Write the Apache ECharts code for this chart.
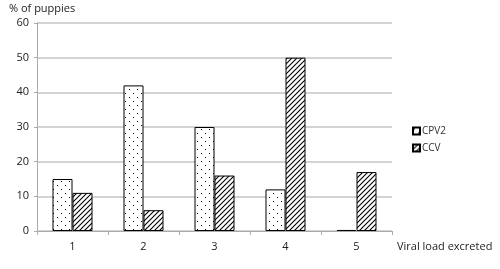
<!DOCTYPE html>
<html><head><meta charset="utf-8">
<script src="https://cdn.jsdelivr.net/npm/echarts@6/dist/echarts.min.js"></script>
<style>html,body{margin:0;padding:0;background:#fff}#c{width:500px;height:269px}</style>
</head><body><div id="c"></div>
<script>
var categories = ['1', '2', '3', '4', '5'];
var cpv2 = [15, 42, 30, 12, 0.3];
var ccv = [11, 6, 16, 50, 17];
var seriesNames = ['CPV2', 'CCV'];

function dotPattern() {
  var c = document.createElement('canvas'); c.width = 8; c.height = 8;
  var g = c.getContext('2d');
  g.fillStyle = '#fff'; g.fillRect(0, 0, 8, 8);
  g.fillStyle = '#000';
  g.fillRect(1, 1, 1, 1); g.fillRect(5, 5, 1, 1);
  return c;
}
function hatchPattern() {
  var c = document.createElement('canvas'); c.width = 5; c.height = 5;
  var g = c.getContext('2d');
  g.fillStyle = '#fff'; g.fillRect(0, 0, 5, 5);
  g.strokeStyle = '#000'; g.lineWidth = 1.1;
  g.beginPath();
  g.moveTo(0, 5); g.lineTo(5, 0);
  g.moveTo(-1, 1); g.lineTo(1, -1);
  g.moveTo(4, 6); g.lineTo(6, 4);
  g.stroke();
  return c;
}

var font = 'Open Sans';
var chart = echarts.init(document.getElementById('c'));
chart.setOption({
  animation: false,
  grid: { left: 37, right: 108, top: 23, bottom: 38 },
  legend: {
    orient: 'vertical', left: 407, top: 121, itemGap: 7,
    itemWidth: 7, itemHeight: 7, icon: 'rect',
    textStyle: { fontFamily: font, fontSize: 10, color: '#333', padding: [0, 0, 0, -3] },
    data: seriesNames
  },
  xAxis: {
    type: 'category', data: categories,
    name: 'Viral load excreted', nameLocation: 'end', nameGap: 5,
    nameTextStyle: { fontFamily: font, fontSize: 11, color: '#222', verticalAlign: 'top', padding: [10, 0, 0, 0] },
    axisLine: { lineStyle: { color: '#aaa', width: 1 } },
    axisTick: { show: true, length: 4, lineStyle: { color: '#aaa' } },
    axisLabel: { fontFamily: font, fontSize: 11, color: '#222', margin: 10 }
  },
  yAxis: {
    type: 'value', min: 0, max: 60, interval: 10,
    name: '% of puppies', nameLocation: 'end', nameGap: 9,
    nameTextStyle: { fontFamily: font, fontSize: 11, color: '#222', align: 'left', padding: [0, 0, 0, -28] },
    axisLine: { show: true, lineStyle: { color: '#aaa', width: 1 } },
    axisTick: { show: true, length: 3, lineStyle: { color: '#aaa' } },
    axisLabel: { fontFamily: font, fontSize: 11, color: '#222', margin: 8 },
    splitLine: { lineStyle: { color: '#c4c4c4', width: 1.5 } }
  },
  series: [
    { name: seriesNames[0], type: 'bar', data: cpv2, barWidth: 20, barGap: '0%',
      itemStyle: { color: { image: dotPattern(), repeat: 'repeat' }, borderColor: '#000', borderWidth: 1 } },
    { name: seriesNames[1], type: 'bar', data: ccv, barWidth: 20, barGap: '0%',
      itemStyle: { color: { image: hatchPattern(), repeat: 'repeat' }, borderColor: '#000', borderWidth: 1 } }
  ]
});
</script></body></html>
